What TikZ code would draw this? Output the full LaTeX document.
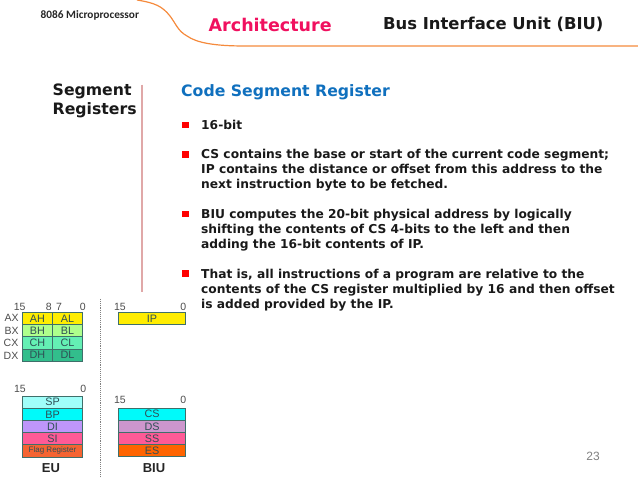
\documentclass[tikz,border=0pt]{standalone}
\usepackage{fontspec}
\setmainfont{DejaVu Sans}
\newfontfamily\arialf{Liberation Sans}
\newfontfamily\capf{Carlito}
\definecolor{orangeline}{HTML}{F58A3C}
\definecolor{pinkhead}{HTML}{F0105F}
\definecolor{bluehead}{HTML}{1070BE}
\definecolor{regedge}{HTML}{3F6F6A}
\definecolor{regtext}{HTML}{2F4F55}
\definecolor{ruleline}{HTML}{E0A8A8}
\tikzset{
 body/.style={anchor=base west,inner sep=0pt,font=\fontsize{12.25}{14}\selectfont\bfseries,text=black!90},
 bul/.style={fill=red,draw=none,minimum size=6.7pt,inner sep=0pt},
 reg/.style={draw=regedge,line width=.6pt,minimum height=12.2pt,inner sep=0pt,font=\arialf\fontsize{10.8}{12}\selectfont,text=regtext},
 wide/.style={reg,minimum width=67pt},
 eu/.style={reg,minimum width=60pt},
 half/.style={reg,minimum width=30pt},
 lab/.style={inner sep=0pt,font=\arialf\fontsize{10.5}{12}\selectfont,text=black!70},
 unit/.style={inner sep=0pt,font=\arialf\fontsize{13}{15}\selectfont\bfseries,text=black!85}
}
\begin{document}
\begin{tikzpicture}[x=1pt,y=-1pt]
\useasboundingbox (0,0) rectangle (638,478);
% header
\draw[orangeline,line width=1.2pt] (137,0) .. controls (155,3) and (162,6) .. (170,16) .. controls (176,24) and (178,31) .. (187,36) .. controls (197,43) and (215,46) .. (245,46) -- (638,46);
\node[anchor=base west,inner sep=0pt,font=\capf\fontsize{11.3}{13}\selectfont\bfseries,text=black!85] (cap) at (40.5,19) {8086 Microprocessor};
\node[anchor=base west,inner sep=0pt,font=\fontsize{17.5}{19}\selectfont\bfseries,text=pinkhead] (arch) at (208.5,31.5) {Architecture};
\node[anchor=base west,inner sep=0pt,font=\fontsize{16.4}{18}\selectfont\bfseries,text=black!90] (biu) at (383,29.5) {Bus Interface Unit (BIU)};
% side title
\node[anchor=base west,inner sep=0pt,font=\fontsize{15.7}{18}\selectfont\bfseries,text=black!90] (seg1) at (52.5,96) {Segment};
\node[anchor=base west,inner sep=0pt,font=\fontsize{15.7}{18}\selectfont\bfseries,text=black!90] (seg2) at (52.5,115) {Registers};
\draw[ruleline,line width=1.5pt] (142,84.7) -- (142,291.7);
\node[anchor=base west,inner sep=0pt,font=\fontsize{15.7}{18}\selectfont\bfseries,text=bluehead] (head) at (181,96.5) {Code Segment Register};
% bullets
\node[bul] (b1) at (185.7,125) {};
\node[bul] (b2) at (185.7,154.3) {};
\node[bul] (b3) at (185.7,214) {};
\node[bul] (b4) at (185.7,273.7) {};
\node[body] (t1) at (201,129.5) {16-bit};
\node[body] (t2a) at (201,159) {CS contains the base or start of the current code segment;};
\node[body] (t2b) at (201,174) {IP contains the distance or offset from this address to the};
\node[body] (t2c) at (201,189) {next instruction byte to be fetched.};
\node[body] (t3a) at (201,219) {BIU computes the 20-bit physical address by logically};
\node[body] (t3b) at (201,234) {shifting the contents of CS 4-bits to the left and then};
\node[body] (t3c) at (201,249) {adding the 16-bit contents of IP.};
\node[body] (t4a) at (201,279) {That is, all instructions of a program are relative to the};
\node[body] (t4b) at (201,294) {contents of the CS register multiplied by 16 and then offset};
\node[body] (t4c) at (201,309) {is added provided by the IP.};
% separator
\draw[gray,line width=.9pt,densely dotted] (100,299) -- (100,478);
% general registers
\node[lab] (l15a) at (19.7,306.7) {15};
\node[lab] (l8) at (48.7,306.7) {8};
\node[lab] (l7) at (59,306.7) {7};
\node[lab] (l0a) at (82.7,306.7) {0};
\node[half,fill=yellow!95!orange] (ah) at (37.5,318.4) {AH};
\node[half,fill=yellow!95!orange] (al) at (67.5,318.4) {AL};
\node[half,fill=green!70!yellow!45] (bh) at (37.5,330.6) {BH};
\node[half,fill=green!70!yellow!45] (bl) at (67.5,330.6) {BL};
\node[half,fill={rgb,255:red,100;green,240;blue,180}] (ch) at (37.5,342.8) {CH};
\node[half,fill={rgb,255:red,100;green,240;blue,180}] (cl) at (67.5,342.8) {CL};
\node[half,fill={rgb,255:red,50;green,190;blue,140}] (dh) at (37.5,355) {DH};
\node[half,fill={rgb,255:red,50;green,190;blue,140}] (dl) at (67.5,355) {DL};
\node[lab] (ax) at (11.7,318.3) {AX};
\node[lab] (bx) at (11.7,331) {BX};
\node[lab] (cx) at (11,343.3) {CX};
\node[lab] (dx) at (11,355.7) {DX};
% IP
\node[lab] (l15b) at (120,306.7) {15};
\node[lab] (l0b) at (183.3,306.7) {0};
\node[wide,fill=yellow!95!orange] (ip) at (152,318.4) {IP};
% EU
\node[lab] (l15c) at (20,389.3) {15};
\node[lab] (l0c) at (83.3,389.3) {0};
\node[eu,fill={rgb,255:red,160;green,255;blue,250}] (sp) at (52.5,402.2) {SP};
\node[eu,fill={rgb,255:red,0;green,250;blue,250}] (bp) at (52.5,414.4) {BP};
\node[eu,fill={rgb,255:red,190;green,150;blue,250}] (di) at (52.5,426.4) {DI};
\node[eu,fill={rgb,255:red,255;green,90;blue,150}] (si) at (52.5,438.4) {SI};
\node[eu,fill={rgb,255:red,245;green,100;blue,50},font=\arialf\fontsize{8}{10}\selectfont] (fl) at (52.5,450.8) {Flag Register};
\node[unit] (eulab) at (51,468.3) {EU};
% BIU
\node[lab] (l15d) at (120,400) {15};
\node[lab] (l0d) at (183.3,400) {0};
\node[wide,fill={rgb,255:red,0;green,250;blue,250}] (cs) at (152,414.2) {CS};
\node[wide,fill={rgb,255:red,205;green,150;blue,205}] (ds) at (152,426.5) {DS};
\node[wide,fill={rgb,255:red,255;green,90;blue,150}] (ss) at (152,438.7) {SS};
\node[wide,fill={rgb,255:red,255;green,100;blue,0}] (es) at (152,450.7) {ES};
\node[unit] (biulab) at (154,468.3) {BIU};
% page
\node[anchor=base east,inner sep=0pt,font=\arialf\fontsize{12}{14}\selectfont,text=gray] (pg) at (600,460.5) {23};
\end{tikzpicture}
\end{document}
